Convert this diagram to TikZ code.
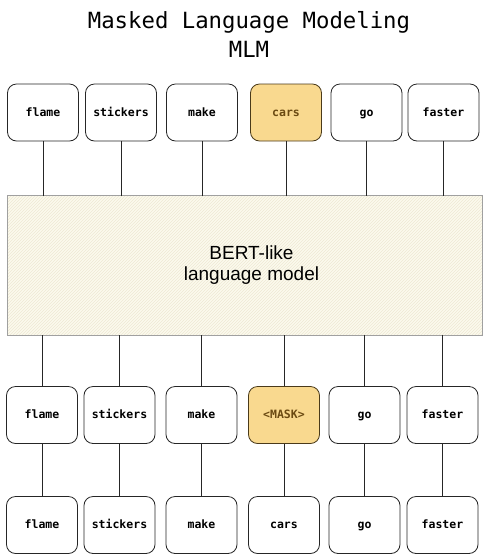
\documentclass[tikz,border=0pt]{standalone}
\usepackage{fontspec}
\setmainfont{Liberation Sans}
\newfontfamily\monofont{DejaVu Sans Mono}
\usetikzlibrary{patterns}
\definecolor{maskfill}{HTML}{F9D98F}
\definecolor{masktext}{HTML}{6B4A12}
\definecolor{maskdraw}{HTML}{4A3A1A}
\definecolor{creamfill}{HTML}{FCFAEE}
\definecolor{hatch}{HTML}{EEE8D4}
\definecolor{boxgray}{HTML}{A0A0A0}
\tikzset{
  tok/.style={draw=black!85, line width=0.8pt, rounded corners=9pt, fill=white,
    minimum width=71pt, minimum height=57pt, inner sep=0pt,
    text height=10pt, text depth=2.5pt,
    font=\monofont\bfseries\fontsize{11.5}{13}\selectfont},
  masked/.style={tok, fill=maskfill, draw=maskdraw, text=masktext},
  link/.style={draw=black!85, line width=0.8pt},
  titletext/.style={font=\monofont\fontsize{22.3}{29}\selectfont, align=center},
  modeltextstyle/.style={align=center, font=\fontsize{19}{21.5}\selectfont}
}
\begin{document}
\begin{tikzpicture}[x=1pt,y=-1pt]
\useasboundingbox (0,0) rectangle (487,558);
\node[titletext] (title) at (249,34.5) {Masked Language Modeling\\MLM};
% model
\path (245,265.5) node[minimum width=474pt, minimum height=139pt, inner sep=0pt] (model) {};
\fill[creamfill] (model.south west) rectangle (model.north east);
\fill[pattern=north east lines, pattern color=hatch] (model.south west) rectangle (model.north east);
\draw[draw=boxgray, line width=0.8pt] (model.south west) rectangle (model.north east);
\node[modeltextstyle] (modeltext) at (251.5,265) {BERT-like\\ language model};
% top row
\node[tok] (t1) at (43,112.5) {flame};
\node[tok] (t2) at (121,112.5) {stickers};
\node[tok] (t3) at (202,112.5) {make};
\node[masked] (t4) at (286,112.5) {cars};
\node[tok] (t5) at (366.5,112.5) {go};
\node[tok] (t6) at (443.5,112.5) {faster};
% middle row
\node[tok] (m1) at (42,415) {flame};
\node[tok] (m2) at (119.5,415) {stickers};
\node[tok] (m3) at (201.5,415) {make};
\node[masked] (m4) at (284,415) {<MASK>};
\node[tok] (m5) at (364.5,415) {go};
\node[tok] (m6) at (442.5,415) {faster};
% bottom row
\node[tok] (b1) at (42,525) {flame};
\node[tok] (b2) at (119.5,525) {stickers};
\node[tok] (b3) at (201.5,525) {make};
\node[tok] (b4) at (284,525) {cars};
\node[tok] (b5) at (364.5,525) {go};
\node[tok] (b6) at (442.5,525) {faster};
% connectors
\foreach \i in {1,...,6}{
  \draw[link] (t\i.south) -- (t\i.south |- model.north);
  \draw[link] (m\i.north |- model.south) -- (m\i.north);
  \draw[link] (m\i.south) -- (b\i.north);
}
\end{tikzpicture}
\end{document}
